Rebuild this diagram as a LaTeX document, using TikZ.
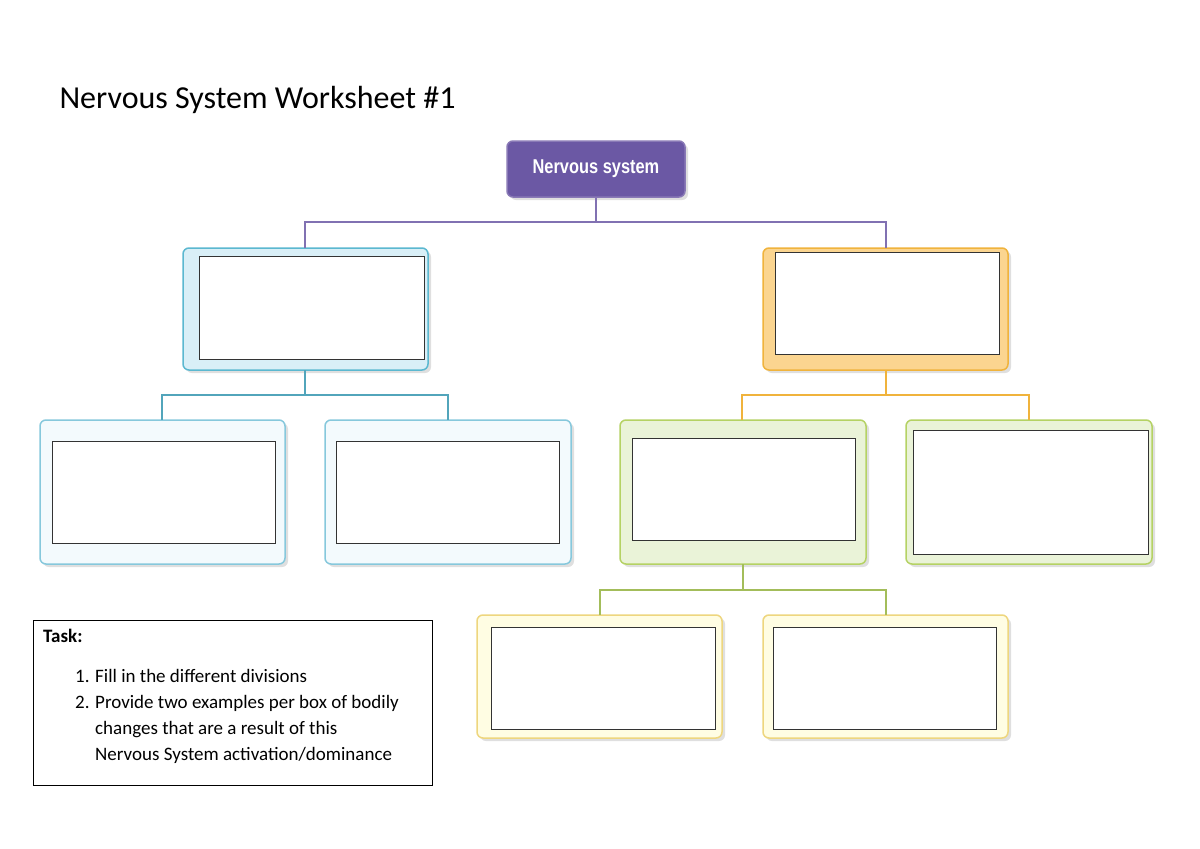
\documentclass[tikz,border=0pt]{standalone}
\usepackage{fontspec}
\setmainfont{Carlito}
\newfontfamily\narrowsans{Liberation Sans}[FakeStretch=0.82]
\usetikzlibrary{shadows}
\definecolor{purp}{HTML}{6B58A4}
\definecolor{bluefillA}{HTML}{D9EFF7}\definecolor{blueln}{HTML}{5BB8D0}
\definecolor{bluefillB}{HTML}{F3FAFD}\definecolor{bluelnB}{HTML}{86C8DC}
\definecolor{orfill}{HTML}{FBD590}\definecolor{orln}{HTML}{F0B33C}
\definecolor{grfill}{HTML}{EAF3D8}\definecolor{grln}{HTML}{B5D264}
\definecolor{yefill}{HTML}{FFFDE3}\definecolor{yeln}{HTML}{EED67E}
\tikzset{
 outer/.style={rounded corners=6pt, line width=1.5pt, drop shadow={shadow xshift=3pt,shadow yshift=-3pt,opacity=0.25}},
 inner/.style={draw=black!80, fill=white, line width=0.8pt},
 conn/.style={line width=2pt},
 txt/.style={anchor=base west,inner sep=0pt,font=\fontsize{19}{22}\selectfont},
}
\begin{document}
\begin{tikzpicture}[x=1pt,y=-1pt]
\useasboundingbox[fill=white] (0,0) rectangle (1200,849);
\node[anchor=west,font=\fontsize{32}{34}\selectfont] (title) at (56,100) {Nervous System Worksheet \#1};
% top
\node[outer,fill=purp,draw=purp!80!white,minimum width=178pt,minimum height=56pt,text=white,font=\narrowsans\bfseries\fontsize{20}{22}\selectfont] (top) at (596,169) {Nervous system};
% level1
\path[outer,fill=bluefillA,draw=blueln] (183,248) rectangle (428,370);
\node[inner,minimum width=225pt,minimum height=103pt] (cns) at (311.5,307.5) {};
\path[outer,fill=orfill,draw=orln] (763,248) rectangle (1008,370);
\node[inner,minimum width=224pt,minimum height=102pt] (pns) at (887,303) {};
% level2
\path[outer,fill=bluefillB,draw=bluelnB] (40,420) rectangle (285,564);
\node[inner,minimum width=223pt,minimum height=102pt] (b1) at (163.5,492) {};
\path[outer,fill=bluefillB,draw=bluelnB] (325,420) rectangle (571,564);
\node[inner,minimum width=223pt,minimum height=102pt] (b2) at (447.5,492) {};
\path[outer,fill=grfill,draw=grln] (620,420) rectangle (866,564);
\node[inner,minimum width=223pt,minimum height=102pt] (g1) at (743.5,489) {};
\path[outer,fill=grfill,draw=grln] (906,420) rectangle (1152,564);
\node[inner,minimum width=235pt,minimum height=124pt] (g2) at (1030.5,492) {};
% level3
\path[outer,fill=yefill,draw=yeln] (477,615) rectangle (722,738);
\node[inner,minimum width=224pt,minimum height=102pt] (y1) at (603,678) {};
\path[outer,fill=yefill,draw=yeln] (763,615) rectangle (1008,738);
\node[inner,minimum width=223pt,minimum height=102pt] (y2) at (884.5,678) {};
% connectors
\coordinate (pA) at (305,248); \coordinate (pB) at (886,248);
\draw[conn,purp!85] (top.south) -- ++(0,24) -| (pA);
\draw[conn,purp!85] (top.south) ++(0,24) -| (pB);
\coordinate (bA) at (162,420); \coordinate (bB) at (448,420); \coordinate (bS) at (305,370);
\draw[conn,blueln!90!black] (bS) -- ++(0,25) -| (bA);
\draw[conn,blueln!90!black] (bS) ++(0,25) -| (bB);
\coordinate (oA) at (742,420); \coordinate (oB) at (1029,420); \coordinate (oS) at (886,370);
\draw[conn,orln] (oS) -- ++(0,25) -| (oA);
\draw[conn,orln] (oS) ++(0,25) -| (oB);
\coordinate (gA) at (600,615); \coordinate (gB) at (886,615); \coordinate (gS) at (743,564);
\draw[conn,grln!90!black] (gS) -- ++(0,26) -| (gA);
\draw[conn,grln!90!black] (gS) ++(0,26) -| (gB);
% task
\draw[line width=0.8pt] (33,620) rectangle (432,785);
\node[txt] (task) at (43,642) {\textbf{Task:}};
\node[txt] (n1) at (75,682) {1.};
\node[txt] (l1) at (95,682) {Fill in the different divisions};
\node[txt] (n2) at (75,708) {2.};
\node[txt] (l2) at (95,708) {Provide two examples per box of bodily};
\node[txt] (l3) at (95,734) {changes that are a result of this};
\node[txt] (l4) at (95,760) {Nervous System activation/dominance};
\end{tikzpicture}
\end{document}
